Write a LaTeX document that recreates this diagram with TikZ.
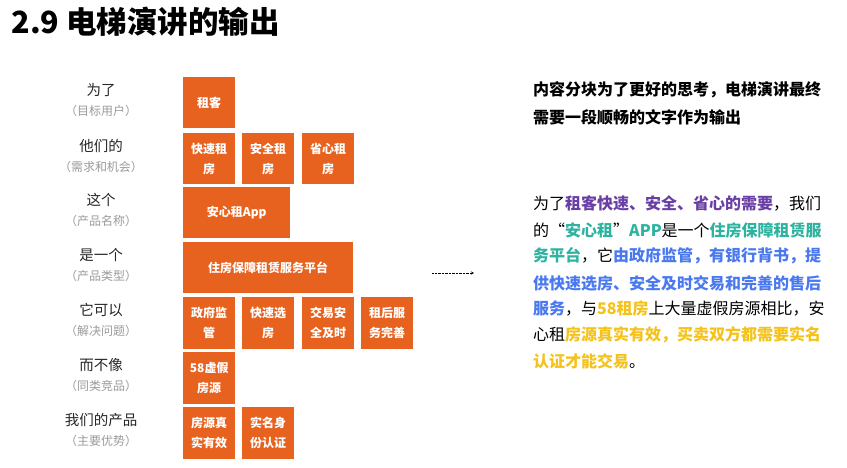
\documentclass[tikz,border=0pt]{standalone}
\usepackage{fontspec}
\setmainfont{Noto Sans CJK SC}
\definecolor{org}{HTML}{E8621F}
\definecolor{pur}{HTML}{6A3FA5}
\definecolor{tea}{HTML}{2DB3A0}
\definecolor{blu}{HTML}{4A78EE}
\definecolor{yel}{HTML}{F4C21A}
\definecolor{gry}{HTML}{9A9A9A}
\begin{document}
\begin{tikzpicture}[x=1pt,y=-1pt,
 box/.style={fill=org,text=white,font=\fontsize{12}{20}\selectfont\bfseries,align=center,inner sep=0pt,anchor=north west},
 lab/.style={font=\fontsize{14.5}{16}\selectfont,text=black!85},
 sub/.style={font=\fontsize{12}{14}\selectfont,text=gry},
 para/.style={anchor=west,font=\fontsize{16}{18}\selectfont\bfseries,inner sep=0pt}]
\useasboundingbox (0,0) rectangle (847,468);
\node[anchor=west,font=\fontsize{30.5}{33}\selectfont\bfseries] (title) at (8,22) {2.9 电梯演讲的输出};
\foreach \i/\a/\b/\y in {1/为了/目标用户/77,2/他们的/需求和机会/133,3/这个/产品名称/187,4/是一个/产品类型/242,5/它可以/解决问题/297,6/而不像/同类竞品/352,7/我们的产品/主要优势/407}{
 \node[lab] (l\i) at (101,\y+13) {\a};
 \node[sub] (s\i) at (101,\y+34) {（\b）};
}
\node[box,minimum width=52,minimum height=51] (b1) at (183,77) {租客};
\node[box,minimum width=52,minimum height=51] (b21) at (183,133) {快速租\\房};
\node[box,minimum width=52,minimum height=51] (b22) at (242,133) {安全租\\房};
\node[box,minimum width=52,minimum height=51] (b23) at (302,133) {省心租\\房};
\node[box,minimum width=107,minimum height=51] (b3) at (183,187) {安心租App};
\node[box,minimum width=170,minimum height=51] (b4) at (183,242) {住房保障租赁服务平台};
\node[box,minimum width=52,minimum height=52] (b51) at (183,297) {政府监\\管};
\node[box,minimum width=52,minimum height=52] (b52) at (242,297) {快速选\\房};
\node[box,minimum width=52,minimum height=52] (b53) at (302,297) {交易安\\全及时};
\node[box,minimum width=52,minimum height=52] (b54) at (361,297) {租后服\\务完善};
\node[box,minimum width=52,minimum height=52] (b6) at (183,352) {58虚假\\房源};
\node[box,minimum width=52,minimum height=52] (b71) at (183,407) {房源真\\实有效};
\node[box,minimum width=52,minimum height=52] (b72) at (242,407) {实名身\\份认证};
\coordinate (a1) at (432,273); \coordinate (a2) at (474,273);
\draw[densely dotted,->,>=stealth] (a1) -- (a2);
\node[para] (h1) at (533,90) {内容分块为了更好的思考，电梯演讲最终};
\node[para] (h2) at (533,117) {需要一段顺畅的文字作为输出};
\begin{scope}[every node/.style={para,font=\fontsize{16}{18}\selectfont}]
\node (p1) at (533,203) {为了{\bfseries\color{pur}租客快速、安全、省心的需要}，我们};
\node (p2) at (533,230) {的“{\bfseries\color{tea}安心租}”{\bfseries\color{tea}APP}是一个{\bfseries\color{tea}住房保障租赁服}};
\node (p3) at (533,256) {{\bfseries\color{tea}务平台}，它{\bfseries\color{blu}由政府监管，有银行背书，提}};
\node (p4) at (533,283) {{\bfseries\color{blu}供快速选房、安全及时交易和完善的售后}};
\node (p5) at (533,309) {{\bfseries\color{blu}服务}，与{\bfseries\color{yel}58租房}上大量虚假房源相比，安};
\node (p6) at (533,335) {心租{\bfseries\color{yel}房源真实有效，买卖双方都需要实名}};
\node (p7) at (533,361) {{\bfseries\color{yel}认证才能交易}。};
\end{scope}
\end{tikzpicture}
\end{document}
